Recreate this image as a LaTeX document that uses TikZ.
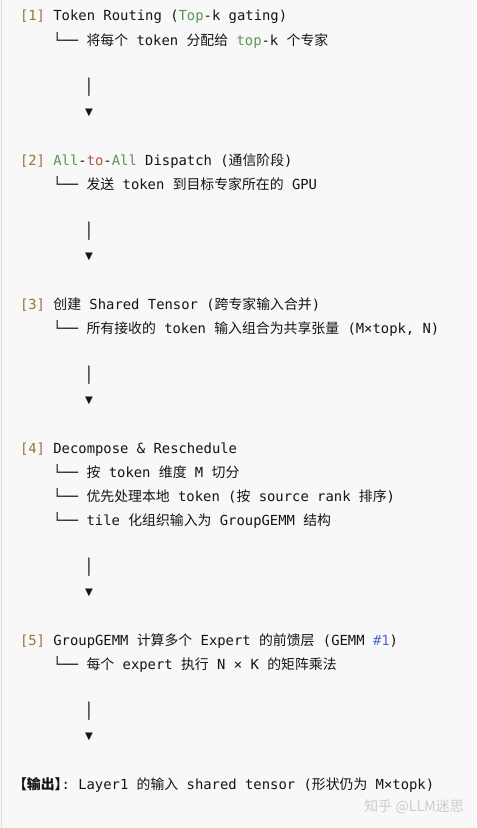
\documentclass[tikz,border=0pt]{standalone}
\usepackage{fontspec}
\setmonofont{DejaVu Sans Mono}
\newfontfamily\zhfont{Noto Sans CJK SC}
\newfontfamily\zhhalf{Noto Sans CJK SC}[RawFeature=+halt]
\newfontfamily\symfont{DejaVu Sans}

\definecolor{codebg}{RGB}{248,248,248}
\definecolor{codeedge}{RGB}{222,222,222}
\definecolor{codeink}{RGB}{20,20,20}
\definecolor{tagnumc}{RGB}{152,117,52}
\definecolor{kwgreen}{RGB}{86,150,86}
\definecolor{kwred}{RGB}{178,84,62}
\definecolor{kwblue}{RGB}{72,110,196}
\definecolor{markgray}{RGB}{205,205,205}

\newcommand{\codefont}{\ttfamily\fontsize{10.4pt}{12pt}\selectfont}
\newcommand{\zh}[1]{{\zhfont #1}}
\newcommand{\tagnum}[1]{\textcolor{tagnumc}{#1}}
\newcommand{\grn}[1]{\textcolor{kwgreen}{#1}}
\newcommand{\rd}[1]{\textcolor{kwred}{#1}}

\tikzset{every node/.style={inner sep=0pt, outer sep=0pt}}

\begin{document}
\begin{tikzpicture}[x=0.75pt, y=-0.75pt,
			codeline/.style={anchor=base west, font=\codefont, text=codeink},
			pipe/.style={font=\ttfamily\fontsize{11.6pt}{13pt}\selectfont, text=codeink},
			tip/.style={font=\symfont\fontsize{7.6pt}{9pt}\selectfont, text=codeink},
			zhihu/.style={anchor=east, font=\zhfont\fontsize{10.6pt}{12pt}\selectfont, text=markgray},
			]
			
			% Code block background
			\useasboundingbox (0,0) rectangle (476,828);
			\fill[codebg] (0,0) rectangle (476,828);
			\draw[codeedge, line width=0.75pt] (1.5,0) -- (1.5,828);
			
			% Step titles
			\node[codeline] (t1) at (20,21) {\tagnum{[1]} Token Routing (\grn{Top}-k gating)};
			\node[codeline] (t2) at (20,165) {\tagnum{[2]} \grn{All}-\rd{to}-\grn{All} Dispatch (\zh{通信阶段})};
			\node[codeline] (t3) at (20,309) {\tagnum{[3]} \zh{创建} Shared Tensor (\zh{跨专家输入合并})};
			\node[codeline] (t4) at (20,453) {\tagnum{[4]} Decompose \& Reschedule};
			\node[codeline] (t5) at (20,645) {\tagnum{[5]} GroupGEMM \zh{计算多个} Expert \zh{的前馈层} (GEMM \textcolor{kwblue}{\#1})};
			
			% Sub items
			\node[codeline] (s1) at (53.2,45) {└── \zh{将每个} token \zh{分配给} \grn{top}-k \zh{个专家}};
			\node[codeline] (s2) at (53.2,189) {└── \zh{发送} token \zh{到目标专家所在的} GPU};
			\node[codeline] (s3) at (53.2,333) {└── \zh{所有接收的} token \zh{输入组合为共享张量} (M×topk, N)};
			\node[codeline] (s4a) at (53.2,477) {└── \zh{按} token \zh{维度} M \zh{切分}};
			\node[codeline] (s4b) at (53.2,501) {└── \zh{优先处理本地} token (\zh{按} source rank \zh{排序})};
			\node[codeline] (s4c) at (53.2,525) {└── tile \zh{化组织输入为} GroupGEMM \zh{结构}};
			\node[codeline] (s5) at (53.2,669) {└── \zh{每个} expert \zh{执行} N × K \zh{的矩阵乘法}};
			
			% Down arrows between the steps
			\foreach \y [count=\n from 1] in {87.5,231.5,375.5,567.5,711.5} {
				\node[pipe] (bar\n) at (89,\y) {│};
				\node[tip] (tip\n) at (89,\y+25) {▼};
			}
			
			% Output line
			\node[codeline] (out) at (20,789) {{\zhhalf\bfseries 【}{\zhfont\bfseries 输出}{\zhhalf\bfseries 】}: Layer1 \zh{的输入} shared tensor (\zh{形状仍为} M×topk)};
			
			\node[zhihu] (wm) at (464,807) {知乎 @LLM迷思};
			
		\end{tikzpicture}
\end{document}
